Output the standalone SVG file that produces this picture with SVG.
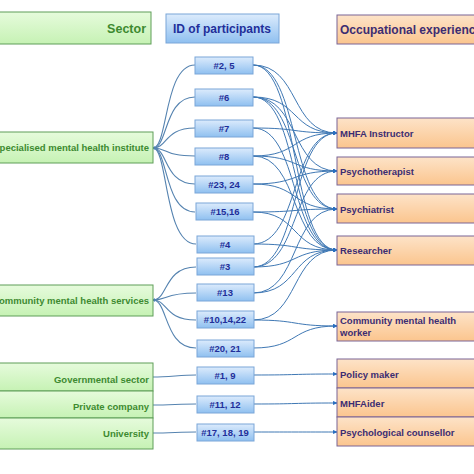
<svg xmlns="http://www.w3.org/2000/svg" width="474" height="474" viewBox="0 0 474 474">
<defs>
<linearGradient id="gG" x1="0" y1="0" x2="0" y2="1"><stop offset="0" stop-color="#e6fbdc"/><stop offset="1" stop-color="#c6f2b4"/></linearGradient>
<linearGradient id="gB" x1="0" y1="0" x2="0" y2="1"><stop offset="0" stop-color="#dcebfc"/><stop offset="1" stop-color="#8fc0f0"/></linearGradient>
<linearGradient id="gO" x1="0" y1="0" x2="0" y2="1"><stop offset="0" stop-color="#fde3c8"/><stop offset="1" stop-color="#fbc58e"/></linearGradient>
<marker id="ar" viewBox="0 0 6 6" refX="5" refY="3" markerWidth="5" markerHeight="5" orient="auto"><path d="M0,0.5 L6,3 L0,5.5 z" fill="#2a6fc0"/></marker>
<marker id="dot" viewBox="0 0 6 6" refX="3" refY="3" markerWidth="4" markerHeight="4" orient="auto"><path d="M6,0.5 L0,3 L6,5.5 z" fill="#2a6fc0"/></marker>
</defs>
<style>
.sec{fill:url(#gG);stroke:#5f9e58;stroke-width:1}
.id{fill:url(#gB);stroke:#7aa6d8;stroke-width:1}
.oc{fill:url(#gO);stroke:#7a6496;stroke-width:1}
.st{font-family:"Liberation Sans",Arial,sans-serif;font-weight:bold;fill:#3d8a30;font-size:9.5px;text-anchor:end}
.it{font-family:"Liberation Sans",Arial,sans-serif;font-weight:bold;fill:#1f2f9a;font-size:9.5px;text-anchor:middle}
.ot{font-family:"Liberation Sans",Arial,sans-serif;font-weight:bold;fill:#3c2d72;font-size:9.5px}
.c1{fill:none;stroke:#5583b0;stroke-width:1.1}
.c2{fill:none;stroke:#3f78b4;stroke-width:1;marker-end:url(#ar)}
</style>
<g id="connectors">
<path class="c1" d="M153,148 C168,148 164,65 195,65" marker-start="url(#dot)"/>
<path class="c1" d="M153,148 C168,148 164,97 195,97"/>
<path class="c1" d="M153,148 C168,148 164,128 195,128"/>
<path class="c1" d="M153,148 C168,148 164,156 195,156"/>
<path class="c1" d="M153,148 C168,148 164,184 195,184"/>
<path class="c1" d="M153,148 C168,148 164,212 195,212"/>
<path class="c1" d="M153,148 C168,148 164,244 196,244"/>
<path class="c1" d="M153,300 C168,300 164,267 196,267" marker-start="url(#dot)"/>
<path class="c1" d="M153,300 C168,300 164,293 196,293"/>
<path class="c1" d="M153,300 C168,300 164,320 196,320"/>
<path class="c1" d="M153,300 C168,300 164,348 196,348"/>
<path class="c1" d="M153,377 C170,377 180,375 196,375"/>
<path class="c1" d="M153,405 C170,405 180,404 196,404"/>
<path class="c1" d="M153,433 C170,433 180,432 196,432"/>
<path class="c2" d="M253,65 C300,65 290,133 337,133"/>
<path class="c2" d="M253,65 C300,65 290,209 337,209"/>
<path class="c2" d="M253,65 C300,65 290,250 337,250"/>
<path class="c2" d="M253,97 C300,97 290,133 337,133"/>
<path class="c2" d="M253,97 C300,97 290,171 337,171"/>
<path class="c2" d="M253,97 C300,97 290,209 337,209"/>
<path class="c2" d="M253,97 C300,97 290,250 337,250"/>
<path class="c2" d="M253,128 C300,128 290,133 337,133"/>
<path class="c2" d="M253,128 C300,128 290,250 337,250"/>
<path class="c2" d="M253,156 C300,156 290,133 337,133"/>
<path class="c2" d="M253,156 C300,156 290,171 337,171"/>
<path class="c2" d="M253,156 C300,156 290,250 337,250"/>
<path class="c2" d="M253,184 C300,184 290,171 337,171"/>
<path class="c2" d="M253,184 C300,184 290,209 337,209"/>
<path class="c2" d="M253,212 C300,212 290,209 337,209"/>
<path class="c2" d="M253,212 C300,212 290,250 337,250"/>
<path class="c2" d="M253,244 C300,244 290,133 337,133"/>
<path class="c2" d="M253,244 C300,244 290,250 337,250"/>
<path class="c2" d="M253,267 C300,267 290,133 337,133"/>
<path class="c2" d="M253,267 C300,267 290,171 337,171"/>
<path class="c2" d="M253,267 C300,267 290,250 337,250"/>
<path class="c2" d="M253,293 C300,293 290,209 337,209"/>
<path class="c2" d="M253,293 C300,293 290,250 337,250"/>
<path class="c2" d="M253,320 C300,320 290,250 337,250"/>
<path class="c2" d="M253,320 C300,320 290,326 337,326"/>
<path class="c2" d="M253,348 C300,348 290,326 337,326"/>
<path class="c2" d="M253,375 C300,375 290,374 337,374"/>
<path class="c2" d="M253,404 C300,404 290,403 337,403"/>
<path class="c2" d="M253,432 C300,432 290,432 337,432"/>
</g>
<g id="header-sector"><rect class="sec" x="-2" y="12" width="153" height="32"/><text class="st" x="146" y="32.5" style="font-size:12.5px">Sector</text></g>
<g id="header-id"><rect class="id" x="166" y="14" width="113" height="29"/><text class="it" x="222" y="33" style="font-size:12px">ID of participants</text></g>
<g id="header-occ"><rect class="oc" x="337" y="15" width="145" height="29"/><text class="ot" x="340" y="34" style="font-size:12px">Occupational experience</text></g>
<g id="s-special"><rect class="sec" x="-2" y="132" width="155" height="31"/><text class="st" x="149" y="151">Specialised mental health institute</text></g>
<g id="s-community"><rect class="sec" x="-2" y="285" width="155" height="31"/><text class="st" x="149" y="304">Community mental health services</text></g>
<g id="s-gov"><rect class="sec" x="-2" y="363" width="155" height="28"/><text class="st" x="149" y="383">Governmental sector</text></g>
<g id="s-private"><rect class="sec" x="-2" y="391" width="155" height="27"/><text class="st" x="149" y="410">Private company</text></g>
<g id="s-uni"><rect class="sec" x="-2" y="418" width="155" height="31"/><text class="st" x="149" y="437">University</text></g>
<g id="id-2-5"><rect class="id" x="195" y="57" width="58" height="17"/><text class="it" x="224" y="68.5">#2, 5</text></g>
<g id="id-6"><rect class="id" x="195" y="89" width="58" height="17"/><text class="it" x="224" y="100.5">#6</text></g>
<g id="id-7"><rect class="id" x="195" y="120" width="58" height="17"/><text class="it" x="224" y="131.5">#7</text></g>
<g id="id-8"><rect class="id" x="195" y="148" width="58" height="17"/><text class="it" x="224" y="159.5">#8</text></g>
<g id="id-23-24"><rect class="id" x="195" y="176" width="58" height="17"/><text class="it" x="224" y="187.5">#23, 24</text></g>
<g id="id-15-16"><rect class="id" x="196" y="203" width="57" height="17"/><text class="it" x="225" y="214.5">#15,16</text></g>
<g id="id-4"><rect class="id" x="197" y="236" width="57" height="17"/><text class="it" x="225" y="247.5">#4</text></g>
<g id="id-3"><rect class="id" x="197" y="258" width="57" height="17"/><text class="it" x="225" y="269.5">#3</text></g>
<g id="id-13"><rect class="id" x="197" y="284" width="57" height="17"/><text class="it" x="225" y="295.5">#13</text></g>
<g id="id-10-14-22"><rect class="id" x="197" y="311" width="57" height="17"/><text class="it" x="225" y="322.5">#10,14,22</text></g>
<g id="id-20-21"><rect class="id" x="197" y="340" width="57" height="17"/><text class="it" x="225" y="351.5">#20, 21</text></g>
<g id="id-1-9"><rect class="id" x="197" y="367" width="57" height="17"/><text class="it" x="225" y="378.5">#1, 9</text></g>
<g id="id-11-12"><rect class="id" x="197" y="396" width="57" height="17"/><text class="it" x="225" y="407.5">#11, 12</text></g>
<g id="id-17-18-19"><rect class="id" x="197" y="424" width="57" height="17"/><text class="it" x="225" y="435.5">#17, 18, 19</text></g>
<g id="o-mhfa"><rect class="oc" x="337" y="118" width="145" height="30"/><text class="ot" x="340" y="136.5">MHFA Instructor</text></g>
<g id="o-psychotherapist"><rect class="oc" x="337" y="157" width="145" height="28"/><text class="ot" x="340" y="175">Psychotherapist</text></g>
<g id="o-psychiatrist"><rect class="oc" x="337" y="194" width="145" height="29"/><text class="ot" x="340" y="212.5">Psychiatrist</text></g>
<g id="o-researcher"><rect class="oc" x="337" y="236" width="145" height="29"/><text class="ot" x="340" y="254">Researcher</text></g>
<g id="o-cmhw"><rect class="oc" x="337" y="312" width="145" height="29"/><text class="ot" x="340" y="324">Community mental health</text><text class="ot" x="340" y="336">worker</text></g>
<g id="o-policy"><rect class="oc" x="337" y="359" width="145" height="29"/><text class="ot" x="340" y="377.5">Policy maker</text></g>
<g id="o-mhfaider"><rect class="oc" x="337" y="388" width="145" height="29"/><text class="ot" x="340" y="406.5">MHFAider</text></g>
<g id="o-counsellor"><rect class="oc" x="337" y="417" width="145" height="29"/><text class="ot" x="340" y="435.5">Psychological counsellor</text></g>
</svg>
